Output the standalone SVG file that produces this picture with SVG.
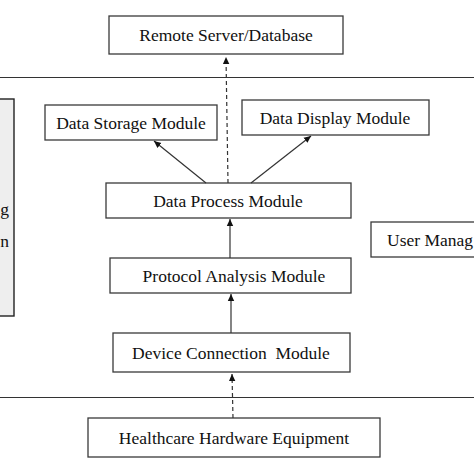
<svg xmlns="http://www.w3.org/2000/svg" width="474" height="474" viewBox="0 0 474 474">
<style>
.box{fill:#fff;stroke:#3a3a3a;stroke-width:1.3}
.t{font-family:"Liberation Serif","Times New Roman",serif;font-size:17.5px;fill:#111;text-anchor:middle;white-space:pre}
.ln{stroke:#333;stroke-width:1.2;fill:none}
.dash{stroke-dasharray:4,3}
</style>
<defs>
<marker id="ah" markerWidth="8" markerHeight="8" refX="7" refY="4" orient="auto" markerUnits="userSpaceOnUse">
<path d="M0,0.8 L7,4 L0,7.2 Z" fill="#111"/>
</marker>
</defs>
<rect width="474" height="474" fill="#fff"/>
<line class="ln" x1="0" y1="77.5" x2="474" y2="77.5"/>
<line class="ln" x1="0" y1="397.5" x2="474" y2="397.5"/>
<g id="left">
<rect x="-5" y="99" width="19" height="217" fill="#eeeeee" stroke="#222" stroke-width="1.4"/>
<text class="t" x="9" y="215" style="text-anchor:end">g</text>
<text class="t" x="9" y="247" style="text-anchor:end">n</text>
</g>
<g id="remote">
<rect class="box" x="109" y="16" width="234" height="38"/>
<text class="t" x="226" y="41">Remote Server/Database</text>
</g>
<g id="storage">
<rect class="box" x="45" y="105" width="172" height="35"/>
<text class="t" x="131" y="129">Data Storage Module</text>
</g>
<g id="display">
<rect class="box" x="242" y="100" width="187" height="35"/>
<text class="t" x="335" y="124">Data Display Module</text>
</g>
<g id="process">
<rect class="box" x="106" y="183" width="245" height="35"/>
<text class="t" x="228" y="207">Data Process Module</text>
</g>
<g id="user">
<rect class="box" x="371" y="222" width="110" height="35"/>
<text class="t" x="387" y="246" style="text-anchor:start">User Manag</text>
</g>
<g id="protocol">
<rect class="box" x="110" y="258" width="241" height="35"/>
<text class="t" x="234" y="282">Protocol Analysis Module</text>
</g>
<g id="device">
<rect class="box" x="113" y="333" width="237" height="39"/>
<text class="t" x="231" y="359" xml:space="preserve">Device Connection  Module</text>
</g>
<g id="hardware">
<rect class="box" x="88" y="418" width="292" height="39"/>
<text class="t" x="234" y="444">Healthcare Hardware Equipment</text>
</g>
<g id="connectors">
<line class="ln dash" x1="228" y1="183" x2="226" y2="57" marker-end="url(#ah)"/>
<line class="ln" x1="206" y1="183" x2="154" y2="141" marker-end="url(#ah)"/>
<line class="ln" x1="251" y1="183" x2="311" y2="136" marker-end="url(#ah)"/>
<line class="ln" x1="230" y1="258" x2="230" y2="219" marker-end="url(#ah)"/>
<line class="ln" x1="231" y1="333" x2="231" y2="294" marker-end="url(#ah)"/>
<line class="ln dash" x1="233" y1="418" x2="232" y2="374" marker-end="url(#ah)"/>
</g>
</svg>
